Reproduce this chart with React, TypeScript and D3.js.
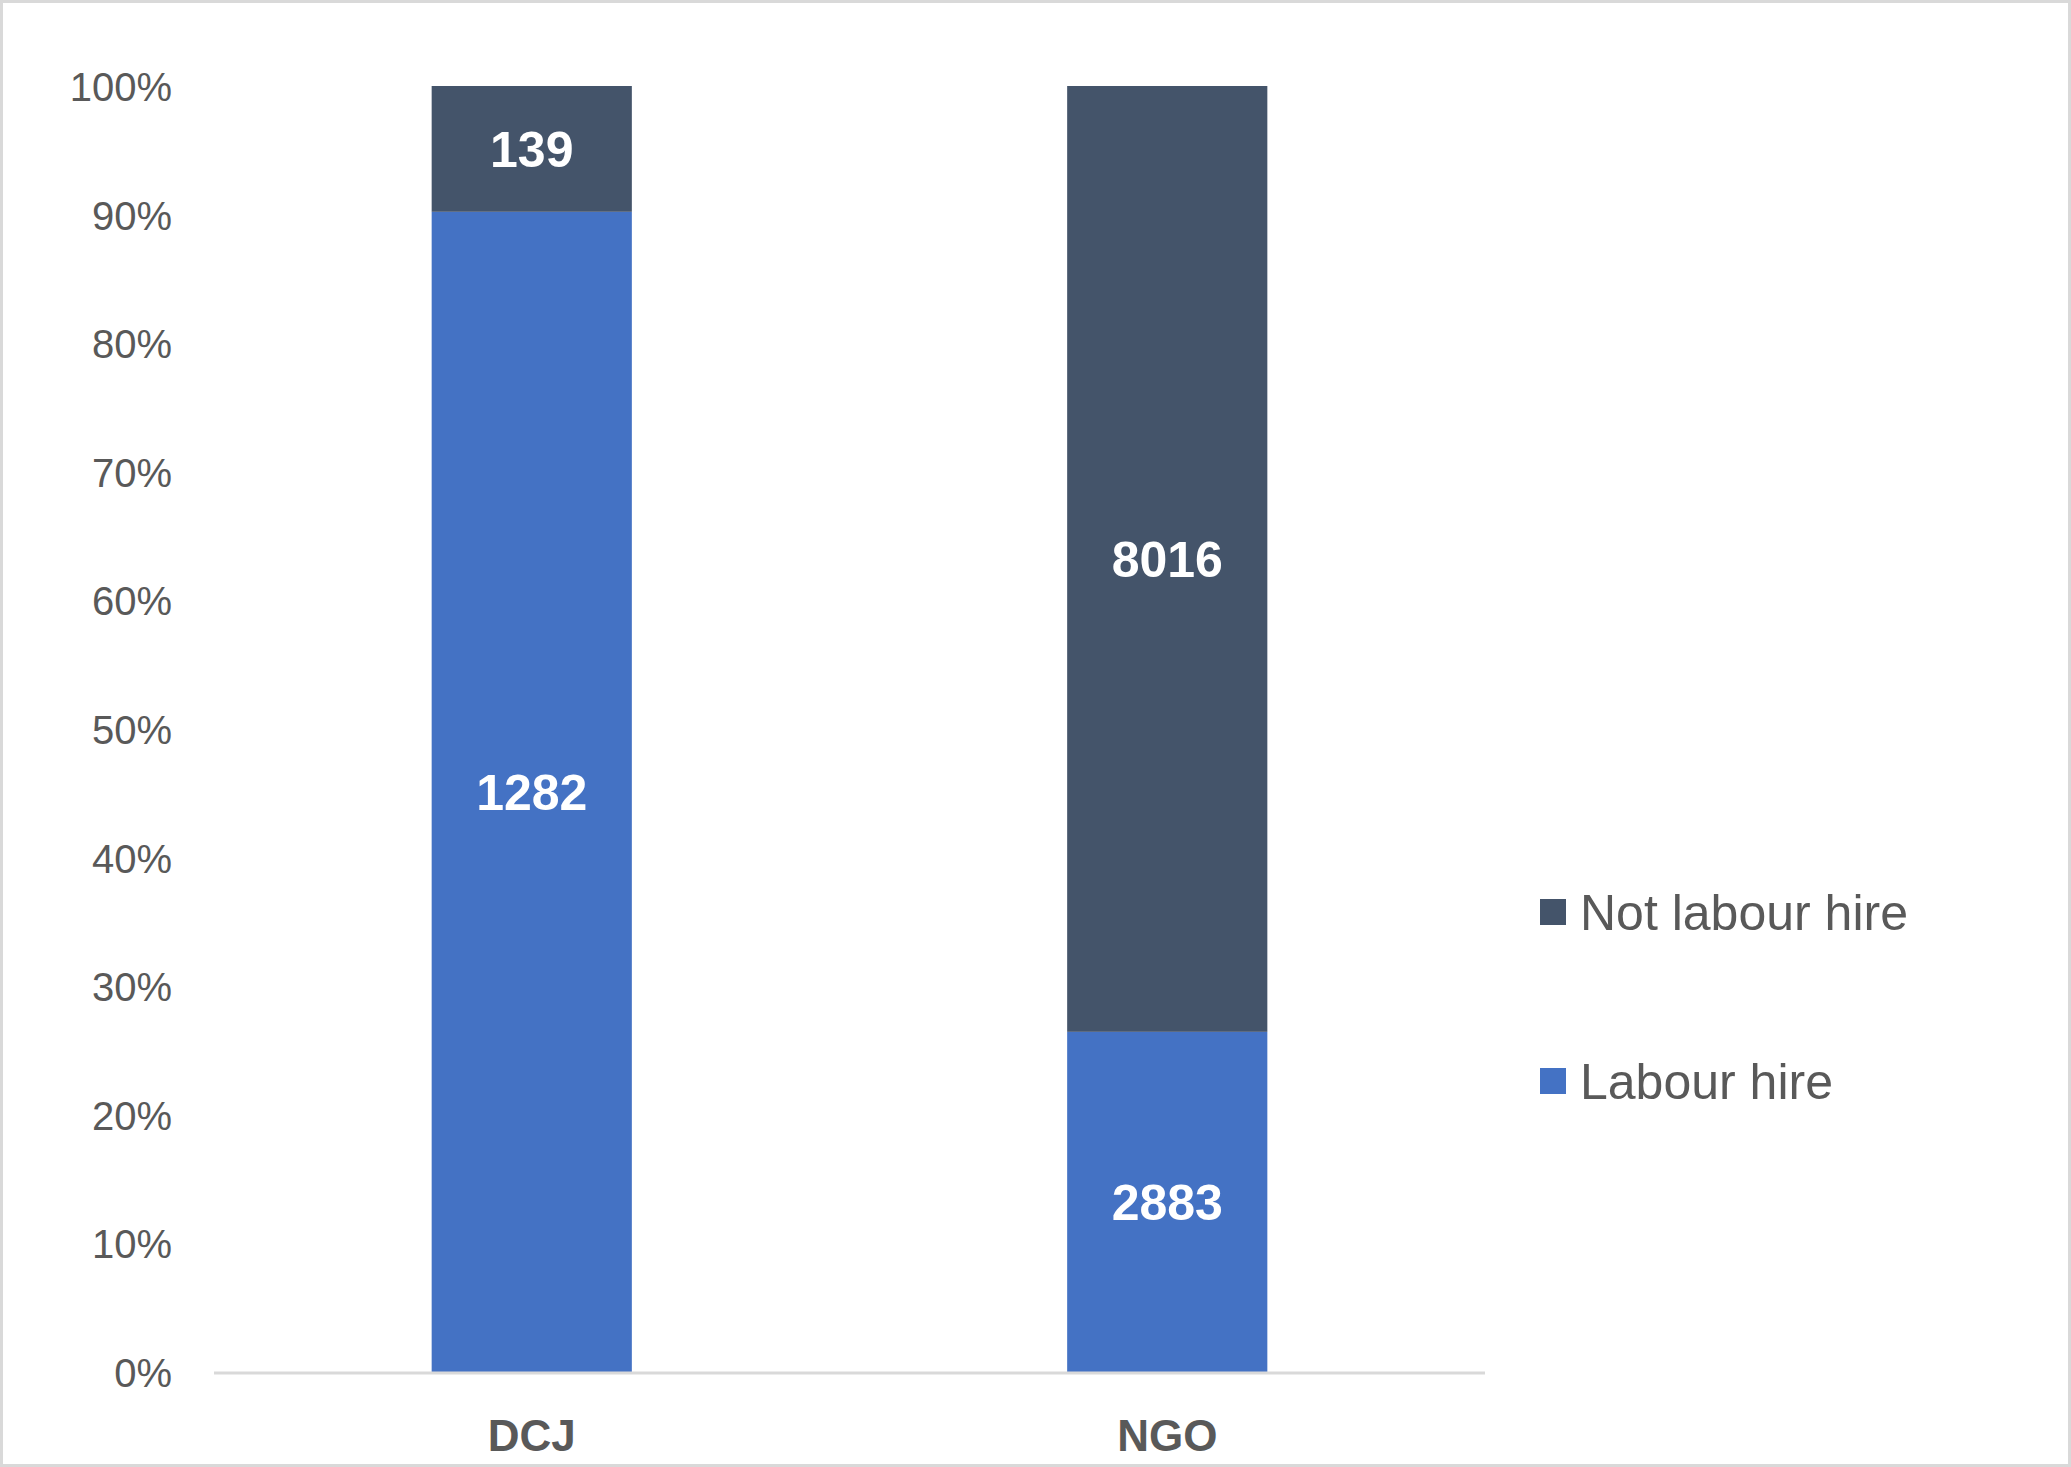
import { useEffect, useRef } from "react";
import * as d3 from "d3";

const categories = ["DCJ", "NGO"];
const seriesNames = ["Labour hire", "Not labour hire"];
const labourHire = [1282, 2883];
const notLabourHire = [139, 8016];
const yTicks = [0, 0.1, 0.2, 0.3, 0.4, 0.5, 0.6, 0.7, 0.8, 0.9, 1];
const colors = ["#4472C4", "#44546A"];

const App = () => {
  const chartRef = useRef(null);

  useEffect(() => {
    if (!chartRef.current) return;
    const svg = d3.select(chartRef.current);
    svg.selectAll("*").remove();

    const width = 2071;
    const height = 1467;
    const margin = { top: 86, right: 586, bottom: 95, left: 214 };
    const font = "'Liberation Sans', Arial, sans-serif";
    const textColor = "#595959";

    svg.attr("width", width).attr("height", height).attr("viewBox", [0, 0, width, height]);

    // background + outer border
    svg
      .append("rect")
      .attr("x", 1.5)
      .attr("y", 1.5)
      .attr("width", width - 3)
      .attr("height", height - 3)
      .attr("fill", "#fff")
      .attr("stroke", "#d9d9d9")
      .attr("stroke-width", 3);

    const x = d3
      .scaleBand()
      .domain(categories)
      .range([margin.left, width - margin.right])
      .paddingInner(0.685)
      .paddingOuter(0.3425);
    const y = d3
      .scaleLinear()
      .domain([0, 1])
      .range([height - margin.bottom, margin.top]);

    const rows = categories.map((c, i) => ({
      category: c,
      "Labour hire": labourHire[i],
      "Not labour hire": notLabourHire[i],
    }));
    const stack = d3
      .stack()
      .keys(seriesNames)
      .offset(d3.stackOffsetExpand);
    const series = stack(rows as any);

    // y axis labels
    const yAxis = svg
      .append("g")
      .attr("transform", `translate(${margin.left - 42},0)`)
      .call(d3.axisLeft(y).tickValues(yTicks).tickFormat(d3.format(".0%")).tickSize(0).tickPadding(0));
    yAxis.select(".domain").remove();
    yAxis
      .selectAll("text")
      .attr("font-family", font)
      .attr("font-size", 40)
      .attr("fill", textColor)
      .attr("dy", "0.36em");

    // bars
    const g = svg.append("g");
    series.forEach((s: any, si: number) => {
      g.selectAll(null)
        .data(s)
        .join("rect")
        .attr("x", (d: any) => x(d.data.category) as number)
        .attr("width", x.bandwidth())
        .attr("y", (d: any) => y(d[1]))
        .attr("height", (d: any) => y(d[0]) - y(d[1]))
        .attr("fill", colors[si]);

      g.selectAll(null)
        .data(s)
        .join("text")
        .attr("x", (d: any) => (x(d.data.category) as number) + x.bandwidth() / 2)
        .attr("y", (d: any) => (y(d[0]) + y(d[1])) / 2)
        .attr("dy", "0.36em")
        .attr("text-anchor", "middle")
        .attr("font-family", font)
        .attr("font-weight", "bold")
        .attr("font-size", 50)
        .attr("fill", "#fff")
        .text((d: any) => d.data[s.key]);
    });

    // baseline
    svg
      .append("line")
      .attr("x1", margin.left)
      .attr("x2", width - margin.right)
      .attr("y1", y(0) + 1)
      .attr("y2", y(0) + 1)
      .attr("stroke", "#d9d9d9")
      .attr("stroke-width", 3);

    // category labels
    const xAxis = svg
      .append("g")
      .attr("transform", `translate(0,${y(0)})`)
      .call(d3.axisBottom(x).tickSize(0).tickPadding(0));
    xAxis.select(".domain").remove();
    xAxis
      .selectAll("text")
      .attr("y", 79)
      .attr("dy", 0)
      .attr("font-family", font)
      .attr("font-weight", "bold")
      .attr("font-size", 44)
      .attr("fill", textColor);

    // legend (Not labour hire on top)
    const legendItems = [
      { name: seriesNames[1], color: colors[1], y: 912 },
      { name: seriesNames[0], color: colors[0], y: 1081 },
    ];
    const legend = svg.append("g");
    legendItems.forEach((item) => {
      legend
        .append("rect")
        .attr("x", 1540)
        .attr("y", item.y - 13)
        .attr("width", 26)
        .attr("height", 26)
        .attr("fill", item.color);
      legend
        .append("text")
        .attr("x", 1580)
        .attr("y", item.y)
        .attr("dy", "0.36em")
        .attr("font-family", font)
        .attr("font-size", 50)
        .attr("fill", textColor)
        .text(item.name);
    });
  }, []);

  return (
    <div style={{ position: "absolute", left: 0, top: 0 }}>
      <svg ref={chartRef} style={{ display: "block" }}></svg>
    </div>
  );
};

export default App;
